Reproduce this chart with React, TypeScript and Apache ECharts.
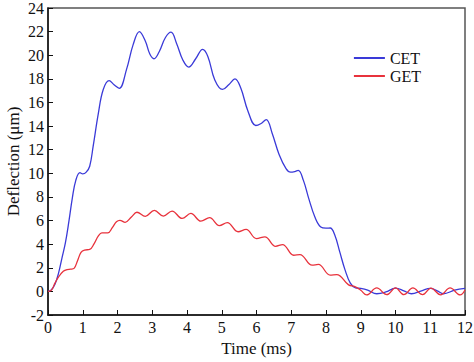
import React, { useEffect, useRef } from "react";
import * as echarts from "echarts";

const cetX = [0, 0.1, 0.2, 0.3, 0.4, 0.5, 0.6, 0.7, 0.8, 0.92, 1.0, 1.1, 1.2, 1.3, 1.45, 1.59, 1.76, 1.9, 2.05, 2.26, 2.45, 2.63, 2.8, 2.93, 3.05, 3.2, 3.38, 3.54, 3.7, 3.88, 4.05, 4.25, 4.45, 4.6, 4.8, 5.02, 5.2, 5.38, 5.55, 5.75, 5.98, 6.12, 6.28, 6.45, 6.65, 6.85, 6.98, 7.1, 7.2, 7.35, 7.5, 7.68, 7.85, 8.0, 8.12, 8.25, 8.4, 8.55, 8.7, 8.85, 9.0, 9.2, 9.46, 9.72, 10.0, 10.24, 10.46, 10.75, 11.0, 11.2, 11.38, 11.7, 12.0];
const cetY = [0, 0.15, 0.6, 1.5, 2.8, 4.1, 5.9, 7.9, 9.4, 10.05, 9.95, 10.1, 10.6, 12.3, 15.1, 17.1, 17.85, 17.5, 17.2, 18.8, 20.9, 22.0, 21.2, 20.1, 19.7, 20.3, 21.5, 21.95, 21.0, 19.6, 19.0, 19.7, 20.5, 19.9, 17.9, 17.1, 17.5, 18.0, 17.2, 15.3, 14.05, 14.2, 14.55, 13.4, 11.6, 10.4, 10.1, 10.15, 10.25, 9.4, 7.9, 6.3, 5.45, 5.35, 5.37, 4.8, 3.3, 1.8, 0.7, 0.3, 0.25, 0.1, -0.2, -0.05, 0.27, 0.05, -0.2, 0.05, 0.25, 0.05, -0.2, 0.1, 0.25];

const getX = [0, 0.1, 0.2, 0.3, 0.44, 0.55, 0.65, 0.75, 0.85, 0.95, 1.05, 1.2, 1.32, 1.45, 1.55, 1.72, 1.85, 1.97, 2.07, 2.22, 2.4, 2.56, 2.8, 3.06, 3.32, 3.57, 3.86, 4.11, 4.4, 4.65, 4.93, 5.16, 5.47, 5.7, 6.0, 6.24, 6.55, 6.75, 7.07, 7.25, 7.6, 7.78, 8.12, 8.31, 8.65, 8.83, 9.0, 9.17, 9.46, 9.75, 10.0, 10.24, 10.5, 10.78, 11.02, 11.3, 11.57, 11.86, 12.0];
const getY = [0, 0.1, 0.7, 1.2, 1.7, 1.85, 1.88, 1.95, 2.6, 3.3, 3.5, 3.55, 4.0, 4.7, 4.95, 4.95, 5.4, 5.9, 6.02, 5.85, 6.3, 6.7, 6.36, 6.86, 6.38, 6.8, 6.18, 6.6, 5.95, 6.24, 5.57, 5.82, 5.05, 5.25, 4.47, 4.62, 3.82, 3.96, 3.06, 3.12, 2.22, 2.28, 1.38, 1.42, 0.55, 0.4, 0.1, -0.3, 0.29, -0.28, 0.29, -0.28, 0.29, -0.28, 0.27, -0.3, 0.29, -0.3, 0.12];

const xTicks = { min: 0, max: 12, interval: 1 };
const yTicks = { min: -2, max: 24, interval: 2 };

const font = "'Liberation Serif', 'Times New Roman', serif";

export default function App() {
  const ref = useRef<HTMLDivElement>(null);
  useEffect(() => {
    if (!ref.current) return;
    const chart = echarts.init(ref.current, undefined, { renderer: "svg" });
    const cet = cetX.map((x, i) => [x, cetY[i]]);
    const get = getX.map((x, i) => [x, getY[i]]);
    chart.setOption({
      animation: false,
      backgroundColor: "#ffffff",
      textStyle: { fontFamily: font },
      grid: {
        left: 48,
        right: 9,
        top: 8,
        bottom: 47,
        containLabel: false,
        outerBoundsMode: "none",
        show: true,
        borderColor: "#555",
        borderWidth: 1.5,
        backgroundColor: "transparent",
      },
      legend: {
        right: 48,
        top: 45,
        orient: "vertical",
        itemWidth: 31,
        itemHeight: 2,
        itemGap: 2,
        icon: "rect",
        textStyle: { fontFamily: font, fontSize: 16, color: "#111" },
        data: ["CET", "GET"],
      },
      xAxis: {
        type: "value",
        min: xTicks.min,
        max: xTicks.max,
        interval: xTicks.interval,
        name: "Time (ms)",
        nameLocation: "middle",
        nameGap: 25,
        nameMoveOverlap: false,
        nameTextStyle: { fontFamily: font, fontSize: 17, color: "#111" },
        axisLine: { show: true, onZero: false, lineStyle: { color: "#111", width: 1.5 } },
        axisTick: { show: true, inside: true, length: 5, lineStyle: { color: "#111" } },
        axisLabel: { fontFamily: font, fontSize: 16, color: "#111", margin: 4, showMaxLabel: true },
        splitLine: { show: false },
      },
      yAxis: {
        type: "value",
        min: yTicks.min,
        max: yTicks.max,
        interval: yTicks.interval,
        name: "Deflection (μm)",
        nameLocation: "middle",
        nameGap: 26,
        nameMoveOverlap: false,
        nameTextStyle: { fontFamily: font, fontSize: 17, color: "#111" },
        axisLine: { show: true, onZero: false, lineStyle: { color: "#111", width: 1.5 } },
        axisTick: { show: true, inside: true, length: 5, lineStyle: { color: "#111" } },
        axisLabel: { fontFamily: font, fontSize: 16, color: "#111", margin: 4 },
        splitLine: { show: false },
      },
      series: [
        {
          name: "CET",
          type: "line",
          data: cet,
          smooth: 0.4,
          showSymbol: false,
          symbol: "none",
          lineStyle: { color: "#3a3ad8", width: 1.3 },
          itemStyle: { color: "#3a3ad8" },
        },
        {
          name: "GET",
          type: "line",
          data: get,
          smooth: 0.4,
          showSymbol: false,
          symbol: "none",
          lineStyle: { color: "#e8323c", width: 1.3 },
          itemStyle: { color: "#e8323c" },
        },
      ],
    });
    return () => chart.dispose();
  }, []);
  return (
    <div
      ref={ref}
      style={{ position: "fixed", left: 0, top: 0, width: 474, height: 362 }}
    />
  );
}
